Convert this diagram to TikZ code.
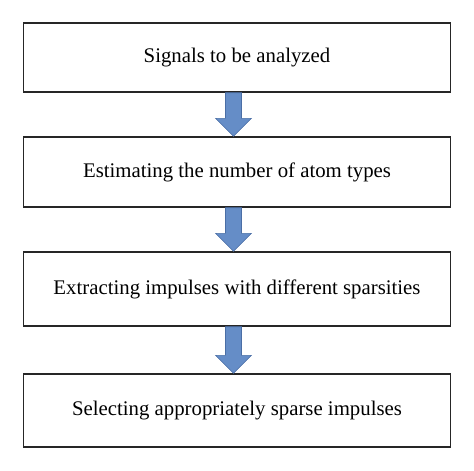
\documentclass[tikz,border=0pt]{standalone}
\usepackage{fontspec}
\setmainfont{Liberation Serif}
\usetikzlibrary{calc}
\definecolor{arrowblue}{RGB}{101,141,199}
\definecolor{arrowedge}{RGB}{74,110,165}

\begin{document}
\begin{tikzpicture}[x=1pt,y=-1pt,
    stepbox/.style={draw=black!85,line width=1.4pt,minimum width=427pt,
      minimum height=#1,inner sep=0pt,font=\fontsize{20.8}{24}\selectfont},
    blockarrow/.style={fill=arrowblue,draw=arrowedge,line width=0.6pt,line join=miter}]
  \useasboundingbox (0,0) rectangle (474,471);
  \node[stepbox=69pt] (signal) at (237,57.5) {Signals to be analyzed};
  \node[stepbox=70pt] (atoms) at (237,172) {Estimating the number of atom types};
  \node[stepbox=74pt] (extract) at (237,289) {Extracting impulses with different sparsities};
  \node[stepbox=73pt] (select) at (237,410.5) {Selecting appropriately sparse impulses};
  \foreach \a/\b in {signal/atoms,atoms/extract,extract/select}{
    \draw[blockarrow] ($(\a.south)+(-11.5,0)$) -- ($(\a.south)+(4.5,0)$)
      -- ($(\b.north)+(4.5,-18)$) -- ($(\b.north)+(14.5,-18)$)
      -- ($(\b.north)+(-3.5,0)$) -- ($(\b.north)+(-21.5,-18)$)
      -- ($(\b.north)+(-11.5,-18)$) -- cycle;
  }
\end{tikzpicture}
\end{document}
